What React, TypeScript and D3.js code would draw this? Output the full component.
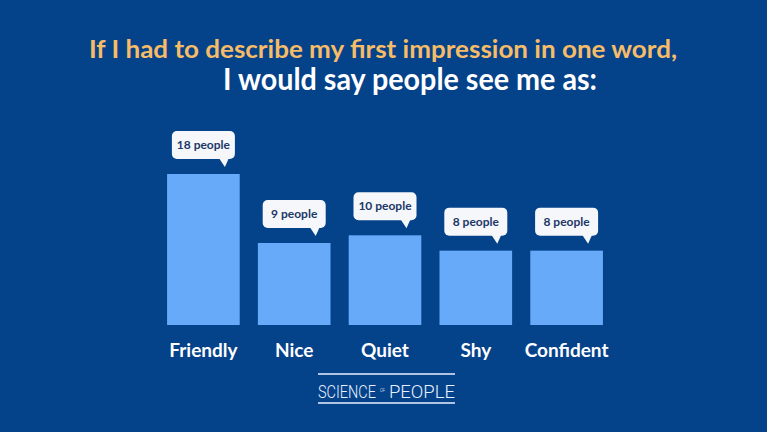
import React, { useLayoutEffect, useRef, useState } from "react";
import * as d3 from "d3";

const categories = ["Friendly", "Nice", "Quiet", "Shy", "Confident"];
const counts = [18, 9, 10, 8, 8];
const bubbleLabels = ["18 people", "9 people", "10 people", "8 people", "8 people"];
const titleLine1 = "If I had to describe my first impression in one word,";
const titleLine2 = "I would say people see me as:";

const W = 767;
const H = 432;
const BG = "#04428A";
const BAR = "#67AAF9";
const FONT = "Lato, 'Open Sans', sans-serif";

function FitText({ x, y, width, fontSize, children }: { x: number; y: number; width: number; fontSize: number; children: string }) {
  const ref = useRef<SVGTextElement>(null);
  const [sx, setSx] = useState(1);
  useLayoutEffect(() => {
    if (ref.current) {
      const w = ref.current.getComputedTextLength();
      if (w > 0) setSx(width / w);
    }
  }, [width, children]);
  return (
    <text ref={ref} transform={`translate(${x},${y}) scale(${sx},1)`} fontSize={fontSize}>{children}</text>
  );
}

export default function App() {
  const x = d3.scaleBand<string>().domain(categories).range([158, 612]).paddingInner(0.2).paddingOuter(0.1);
  const y = d3.scaleLinear().domain([-1.7, 18]).range([325, 174]);
  const bw = x.bandwidth();
  const bubbleW = 63;
  const bubbleH = 28;

  return (
    <svg width={W} height={H} style={{ position: "absolute", left: 0, top: 0 }}>
      <rect width={W} height={H} fill={BG} />
      <text x={383} y={58} textAnchor="middle" fill="#F6BC68" fontFamily={FONT} fontWeight={700} fontSize={25}
        textLength={588} lengthAdjust="spacingAndGlyphs">{titleLine1}</text>
      <text x={410} y={90} textAnchor="middle" fill="#FFFFFF" fontFamily={FONT} fontWeight={700} fontSize={30}
        textLength={374} lengthAdjust="spacingAndGlyphs">{titleLine2}</text>
      {categories.map((c, i) => {
        const x0 = x(c)!;
        const cx = x0 + bw / 2;
        const top = y(counts[i]);
        const bBottom = top - 15;
        const bTop = bBottom - bubbleH;
        const bx = cx - bubbleW / 2;
        const tipX = bx + bubbleW - 10;
        const ptr = `M${tipX - 6},${bBottom - 1} L${tipX + 4},${bBottom - 1} L${tipX},${top - 7} Z`;
        return (
          <g key={c}>
            <rect x={x0} y={top} width={bw} height={y(-1.7) - top} fill={BAR} />
            <rect x={bx} y={bTop} width={bubbleW} height={bubbleH} rx={5} fill="#F5F7FA" />
            <path d={ptr} fill="#F5F7FA" />
            <text x={cx} y={bTop + bubbleH / 2 + 4} textAnchor="middle" fill="#1D3868" fontFamily={FONT}
              fontWeight={700} fontSize={12}>{bubbleLabels[i]}</text>
            <text x={cx} y={357} textAnchor="middle" fill="#FFFFFF" fontFamily={FONT} fontWeight={700}
              fontSize={19}>{c}</text>
          </g>
        );
      })}
      <g fill="#E8F1FF" fontFamily="Roboto, sans-serif" fontWeight={300}>
        <line x1={318} x2={455} y1={374} y2={374} stroke="#E8F1FF" strokeWidth={1.5} />
        <line x1={318} x2={455} y1={403} y2={403} stroke="#E8F1FF" strokeWidth={1.5} />
        <FitText x={318} y={398} width={58} fontSize={19}>SCIENCE</FitText>
        <FitText x={380} y={392} width={5} fontSize={5}>OF</FitText>
        <FitText x={389} y={398} width={66} fontSize={19}>PEOPLE</FitText>
      </g>
    </svg>
  );
}
